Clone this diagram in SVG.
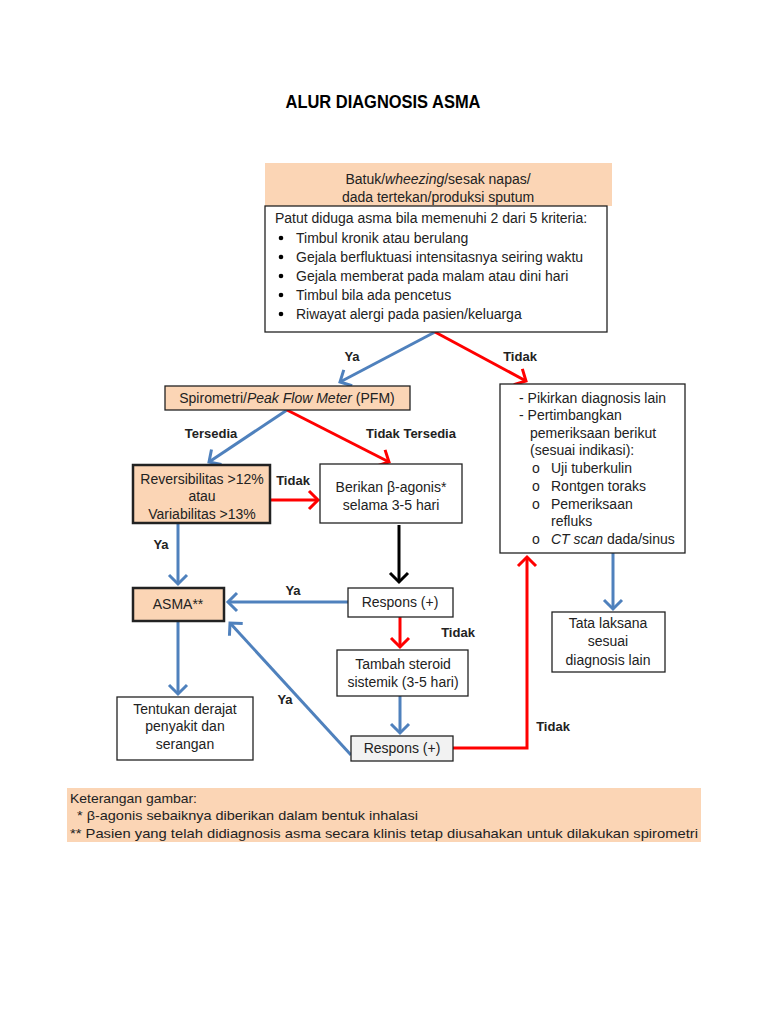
<svg xmlns="http://www.w3.org/2000/svg" width="768" height="1024" viewBox="0 0 768 1024">
<style>
text{font-family:"Liberation Sans","DejaVu Sans",sans-serif;font-size:14px;fill:#222}
.c{text-anchor:middle}
.b{font-weight:bold}
.lb{font-weight:bold;font-size:13px;text-anchor:middle}
.box{fill:#fff;stroke:#222;stroke-width:1.3}
.peach{fill:#FBD5B5}
.pb{fill:#FBD5B5;stroke:#222;stroke-width:1.3}
.thick{stroke-width:2.5}
.blue{stroke:#4F81BD;stroke-width:3;fill:none}
.red{stroke:#FF0000;stroke-width:3;fill:none}
.blk{stroke:#000;stroke-width:3;fill:none}
.ft{font-size:13px}
</style>
<defs>
<marker id="ab" markerUnits="userSpaceOnUse" markerWidth="24" markerHeight="24" refX="12" refY="12" orient="auto" viewBox="0 0 24 24"><path d="M3 3 L12 12 L3 21" fill="none" stroke="#4F81BD" stroke-width="3"/></marker>
<marker id="ar" markerUnits="userSpaceOnUse" markerWidth="24" markerHeight="24" refX="12" refY="12" orient="auto" viewBox="0 0 24 24"><path d="M3 3 L12 12 L3 21" fill="none" stroke="#FF0000" stroke-width="3"/></marker>
<marker id="ak" markerUnits="userSpaceOnUse" markerWidth="24" markerHeight="24" refX="12" refY="12" orient="auto" viewBox="0 0 24 24"><path d="M3 3 L12 12 L3 21" fill="none" stroke="#000" stroke-width="3"/></marker>
</defs>
<rect width="768" height="1024" fill="#fff"/>
<text x="383" y="108" class="c b" style="font-size:19px;fill:#000" textLength="195" lengthAdjust="spacingAndGlyphs">ALUR DIAGNOSIS ASMA</text>

<g id="connectors">
<line class="blue" x1="435" y1="332" x2="340" y2="382" marker-end="url(#ab)"/>
<line class="red" x1="435" y1="332" x2="526" y2="381" marker-end="url(#ar)"/>
<line class="blue" x1="287" y1="410" x2="209" y2="462" marker-end="url(#ab)"/>
<line class="red" x1="287" y1="410" x2="389" y2="462" marker-end="url(#ar)"/>
<line class="red" x1="270" y1="500" x2="318" y2="500" marker-end="url(#ar)"/>
<line class="blue" x1="178" y1="523" x2="178" y2="584" marker-end="url(#ab)"/>
<line class="blk" x1="399" y1="525" x2="399" y2="582" marker-end="url(#ak)"/>
<line class="blue" x1="348" y1="602" x2="228" y2="602" marker-end="url(#ab)"/>
<line class="red" x1="400" y1="617" x2="400" y2="647" marker-end="url(#ar)"/>
<line class="blue" x1="400" y1="696" x2="400" y2="733" marker-end="url(#ab)"/>
<line class="blue" x1="351" y1="755" x2="230" y2="623" marker-end="url(#ab)"/>
<line class="blue" x1="178" y1="621" x2="178" y2="694" marker-end="url(#ab)"/>
<polyline class="red" points="453,748 527,748 527,557" marker-end="url(#ar)"/>
<line class="blue" x1="613" y1="553" x2="613" y2="609" marker-end="url(#ab)"/>
<text x="352" y="361" class="lb">Ya</text>
<text x="520" y="361" class="lb">Tidak</text>
<text x="211" y="438" class="lb">Tersedia</text>
<text x="411" y="438" class="lb">Tidak Tersedia</text>
<text x="293" y="485" class="lb">Tidak</text>
<text x="161" y="549" class="lb">Ya</text>
<text x="293" y="595" class="lb">Ya</text>
<text x="458" y="637" class="lb">Tidak</text>
<text x="285" y="704" class="lb">Ya</text>
<text x="553" y="731" class="lb">Tidak</text>
</g>

<g id="symptoms">
<rect class="peach" x="265" y="163" width="347" height="43"/>
<text x="438" y="184" class="c">Batuk/<tspan font-style="italic">wheezing</tspan>/sesak napas/</text>
<text x="438" y="202" class="c">dada tertekan/produksi sputum</text>
</g>

<g id="criteria">
<rect class="box" x="265" y="206" width="342" height="126"/>
<text x="275" y="223">Patut diduga asma bila memenuhi 2 dari 5 kriteria:</text>
<circle cx="281" cy="238" r="2.3" fill="#000"/><text x="296" y="243">Timbul kronik atau berulang</text>
<circle cx="281" cy="257" r="2.3" fill="#000"/><text x="296" y="262">Gejala berfluktuasi intensitasnya seiring waktu</text>
<circle cx="281" cy="276" r="2.3" fill="#000"/><text x="296" y="281">Gejala memberat pada malam atau dini hari</text>
<circle cx="281" cy="295" r="2.3" fill="#000"/><text x="296" y="300">Timbul bila ada pencetus</text>
<circle cx="281" cy="314" r="2.3" fill="#000"/><text x="296" y="319">Riwayat alergi pada pasien/keluarga</text>
</g>

<g id="spirometri">
<rect class="pb" x="165" y="386" width="245" height="24"/>
<text x="287" y="403" class="c">Spirometri/<tspan font-style="italic">Peak Flow Meter</tspan> (PFM)</text>
</g>

<g id="other-diagnosis">
<rect class="box" x="500" y="384" width="185" height="169"/>
<text x="519" y="403">- Pikirkan diagnosis lain</text>
<text x="519" y="420">- Pertimbangkan</text>
<text x="530" y="438">pemeriksaan berikut</text>
<text x="530" y="455">(sesuai indikasi):</text>
<text x="532" y="473">o</text><text x="551" y="473">Uji tuberkulin</text>
<text x="532" y="491">o</text><text x="551" y="491">Rontgen toraks</text>
<text x="532" y="509">o</text><text x="551" y="509">Pemeriksaan</text>
<text x="551" y="526">refluks</text>
<text x="532" y="544">o</text><text x="551" y="544"><tspan font-style="italic">CT scan</tspan> dada/sinus</text>
</g>

<g id="tata-laksana">
<rect class="box" x="552" y="612" width="113" height="60"/>
<text x="608" y="628" class="c">Tata laksana</text>
<text x="608" y="646" class="c">sesuai</text>
<text x="608" y="665" class="c">diagnosis lain</text>
</g>

<g id="reversibilitas">
<rect class="pb thick" x="133" y="465" width="137" height="58"/>
<text x="202" y="484" class="c">Reversibilitas &gt;12%</text>
<text x="202" y="501" class="c">atau</text>
<text x="202" y="519" class="c">Variabilitas &gt;13%</text>
</g>

<g id="beta-agonis">
<rect class="box" x="320" y="464" width="142" height="59"/>
<text x="391" y="492" class="c">Berikan β-agonis*</text>
<text x="391" y="510" class="c">selama 3-5 hari</text>
</g>

<g id="respons1">
<rect class="box" x="348" y="588" width="105" height="29"/>
<text x="400" y="607" class="c">Respons (+)</text>
</g>

<g id="asma">
<rect class="pb" style="stroke-width:2.5" x="133" y="588" width="91" height="33"/>
<text x="178" y="609" class="c">ASMA**</text>
</g>

<g id="steroid">
<rect class="box" x="337" y="650" width="131" height="46"/>
<text x="403" y="669" class="c">Tambah steroid</text>
<text x="403" y="687" class="c">sistemik (3-5 hari)</text>
</g>

<g id="respons2">
<rect class="box" style="fill:#F2F2F2" x="351" y="736" width="102" height="25"/>
<text x="402" y="753" class="c">Respons (+)</text>
</g>

<g id="tentukan">
<rect class="box" x="117" y="697" width="136" height="63"/>
<text x="185" y="714" class="c">Tentukan derajat</text>
<text x="185" y="731" class="c">penyakit dan</text>
<text x="185" y="749" class="c">serangan</text>
</g>

<g id="keterangan">
<rect class="peach" x="67" y="788" width="634" height="54"/>
<text x="70" y="803" class="ft" textLength="127" lengthAdjust="spacingAndGlyphs">Keterangan gambar:</text>
<text x="77" y="820" class="ft" textLength="341" lengthAdjust="spacingAndGlyphs">* β-agonis sebaiknya diberikan dalam bentuk inhalasi</text>
<text x="70" y="838" class="ft" textLength="628" lengthAdjust="spacingAndGlyphs">** Pasien yang telah didiagnosis asma secara klinis tetap diusahakan untuk dilakukan spirometri</text>
</g>
</svg>
